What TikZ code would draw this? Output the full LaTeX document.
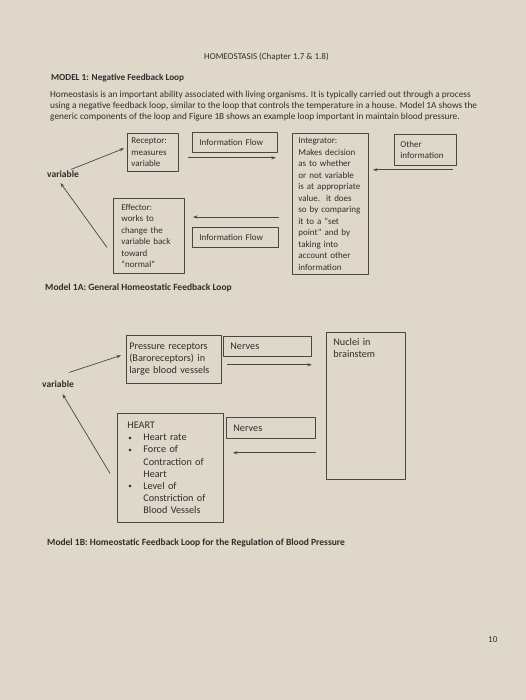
\documentclass[tikz,border=0pt]{standalone}
\usepackage{fontspec}
\setmainfont{Carlito}
\usetikzlibrary{arrows.meta}
\definecolor{paper}{RGB}{222,215,202}
\definecolor{ink}{RGB}{74,70,66}
\definecolor{txt}{RGB}{48,45,43}
\newcommand{\itm}{\makebox[16pt][l]{\hspace{1pt}\raisebox{0.6pt}{\scalebox{0.7}{\textbullet}}}}
\newcommand{\ind}{\hspace*{16pt}}
\tikzset{
  panel/.style={draw=ink,line width=0.8pt,anchor=north west,align=left,inner ysep=2pt,text=txt},
  flow/.style={->,draw=ink,line width=0.7pt},
  label/.style={anchor=west,inner sep=0pt,text=txt},
  heavy/.style={label,font=\fontsize{9.5}{11}\selectfont\bfseries}
}
\begin{document}
\begin{tikzpicture}[x=1pt,y=-1pt,>={Stealth[length=4.5pt,width=3.2pt]},line join=round,font=\fontsize{9}{11.5}\selectfont]
\fill[paper] (0,0) rectangle (526,700);
\useasboundingbox (0,0) rectangle (526,700);
\node[label,anchor=center] (title) at (266.5,57) {HOMEOSTASIS (Chapter 1.7 \& 1.8)};
\node[heavy,font=\fontsize{9.2}{11}\selectfont\bfseries] (model1) at (51,78) {MODEL 1: Negative Feedback Loop};
\node[label,anchor=north west,align=left,font=\fontsize{9.3}{11}\selectfont] (intro) at (50,91)
  {Homeostasis is an important ability associated with living organisms. It is typically carried out through a process\\
   using a negative feedback loop, similar to the loop that controls the temperature in a house. Model 1A shows the\\
   generic components of the loop and Figure 1B shows an example loop important in maintain blood pressure.};
% model 1A
\node[panel,minimum width=51pt,minimum height=38pt,text width=43pt,inner xsep=4pt] (rec) at (127,133) {Receptor:\\measures\\variable};
\node[panel,minimum width=85pt,minimum height=20pt,text width=71pt,inner xsep=7pt] (flowA) at (192,132) {Information Flow};
\node[panel,minimum width=76pt,minimum height=141pt,text width=64pt,inner xsep=6pt] (integ) at (292,133)
  {Integrator:\\Makes decision\\as to whether\\or not variable\\is at appropriate\\value.\ \ it does\\so by comparing\\it to a “set\\point” and by\\taking into\\account other\\information};
\node[panel,minimum width=62pt,minimum height=31pt,text width=50pt,inner xsep=6pt] (other) at (394,134) {Other\\information};
\node[panel,minimum width=71pt,minimum height=75pt,text width=55pt,inner xsep=8pt] (eff) at (113,198) {Effector:\\works to\\change the\\variable back\\toward\\“normal”};
\node[panel,minimum width=86pt,minimum height=20pt,text width=72pt,inner xsep=7pt] (flowB) at (192,227) {Information Flow};
\node[heavy] (varA) at (47,174) {variable};
\path
  ([shift={(-4,5)}]flowA.south west) coordinate (fA_1)
  ([shift={(-2,5)}]flowA.south east) coordinate (fA_2)
  ([shift={(0,-10)}]flowB.north east) coordinate (fB_1)
  ([shift={(1,-10)}]flowB.north west) coordinate (fB_2)
  ([shift={(-4,4)}]other.south east) coordinate (oi_1)
  ([shift={(-21,4)}]other.south west) coordinate (oi_2)
  ;
\draw[flow] (fA_1) -- (fA_2);
\draw[flow] (fB_1) -- (fB_2);
\draw[flow] (oi_1) -- (oi_2);
\draw[flow] ([shift={(-8,-1)}]varA.north east) -- ([shift={(-3,-4)}]rec.west);
\draw[flow] ([shift={(-6,11.5)}]eff.west) -- ([shift={(-2.5,5.5)}]varA.south);
\node[heavy] (capA) at (45,288) {Model 1A: General Homeostatic Feedback Loop};
% model 1B
\begin{scope}[font=\fontsize{10.2}{12.2}\selectfont]
\node[panel,minimum width=95pt,minimum height=48pt,text width=89pt,inner xsep=3pt] (baro) at (126,335) {Pressure receptors\\(Baroreceptors) in\\large blood vessels};
\node[panel,minimum width=88pt,minimum height=20pt,text width=74pt,inner xsep=7pt] (nervA) at (223,336) {Nerves};
\node[panel,minimum width=79pt,minimum height=147pt,text width=65pt,inner xsep=7pt,inner ysep=3pt,text height=10pt,text depth=131pt] (nuc) at (326,332) {Nuclei in\\brainstem};
\node[panel,minimum width=106pt,minimum height=109pt,text width=86pt,inner xsep=10pt] (heart) at (117,413)
  {HEART\\\itm Heart rate\\\itm Force of\\\ind Contraction of\\\ind Heart\\\itm Level of\\\ind Constriction of\\\ind Blood Vessels};
\node[panel,minimum width=89pt,minimum height=21pt,text width=75pt,inner xsep=7pt] (nervB) at (226,417) {Nerves};
\end{scope}
\node[heavy] (varB) at (42,384) {variable};
\path
  ([shift={(4,8)}]nervA.south west) coordinate (nA_1)
  ([shift={(0,8)}]nervA.south east) coordinate (nA_2)
  ([shift={(0,14)}]nervB.south east) coordinate (nB_1)
  ([shift={(7,14)}]nervB.south west) coordinate (nB_2)
  ;
\draw[flow] (nA_1) -- (nA_2);
\draw[flow] (nB_1) -- (nB_2);
\draw[flow] ([shift={(-5,-8)}]varB.north east) -- ([shift={(-5,-4)}]baro.west);
\draw[flow] ([shift={(-7,5.5)}]heart.west) -- ([shift={(4.5,6.5)}]varB.south);
\node[heavy] (capB) at (47,543) {Model 1B: Homeostatic Feedback Loop for the Regulation of Blood Pressure};
\node[label] (pageno) at (488,640) {10};
\end{tikzpicture}
\end{document}
